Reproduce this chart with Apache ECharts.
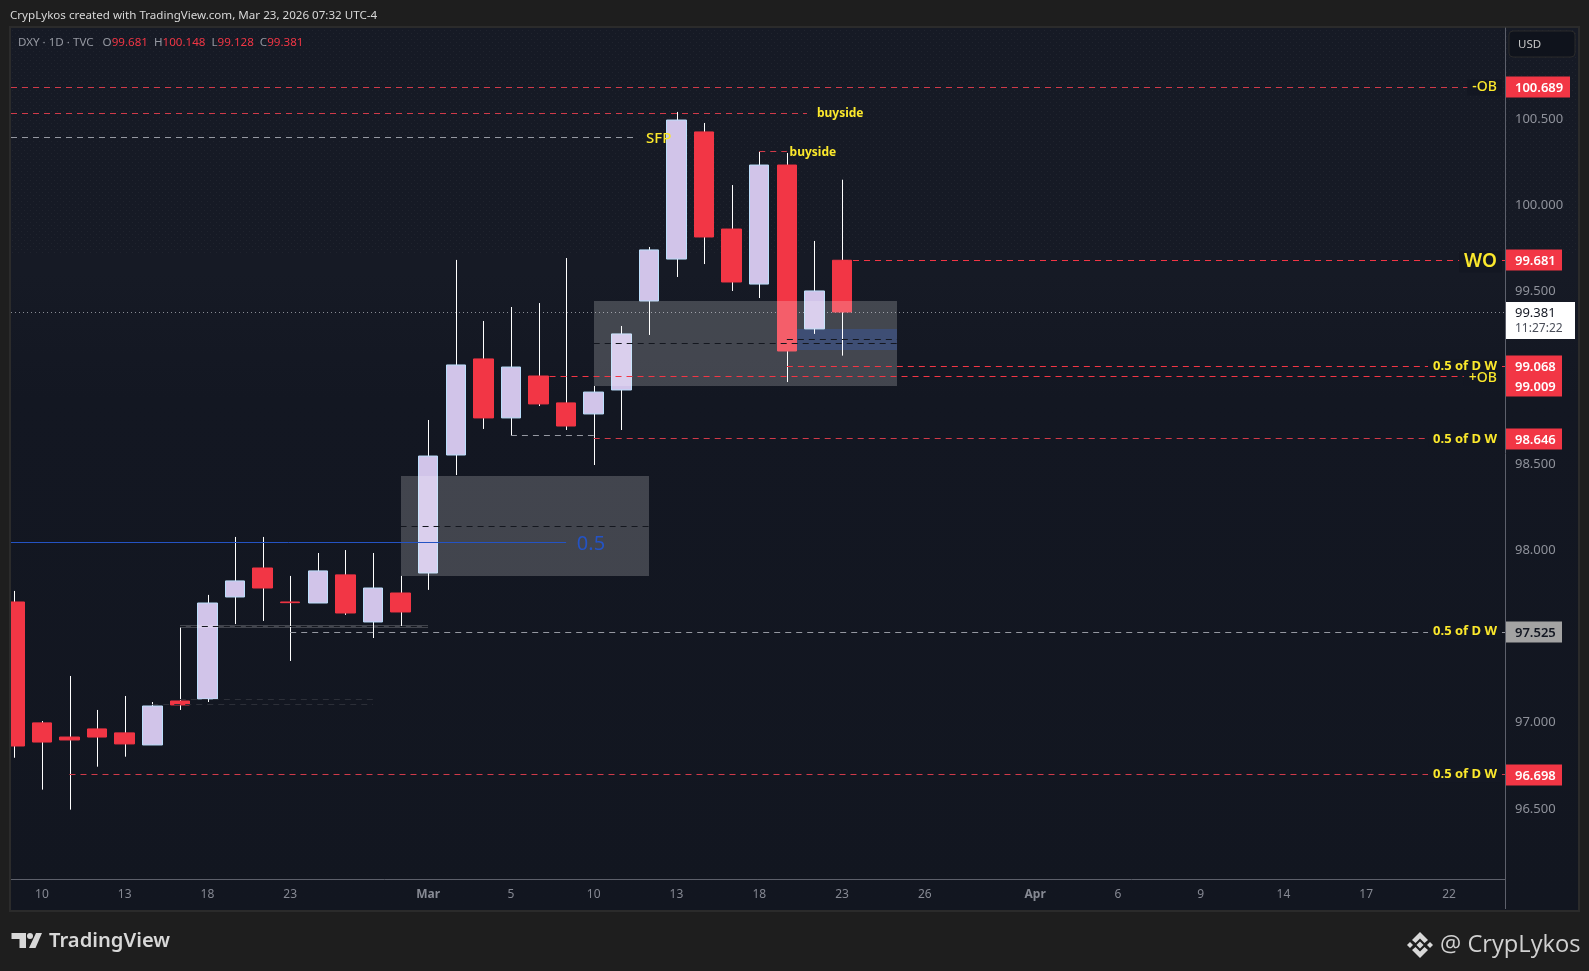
<!DOCTYPE html>
<html><head><meta charset="utf-8">
<style>html,body{margin:0;padding:0;background:#1e1e1e;overflow:hidden}#c{width:1589px;height:971px}</style>
<script src="https://cdn.jsdelivr.net/npm/echarts@6/dist/echarts.min.js"></script>
</head><body><div id="c"></div>
<script>
// --- data ---
const dates = ['Feb 9','Feb 10','Feb 11','Feb 12','Feb 13','Feb 16','Feb 17','Feb 18','Feb 19','Feb 20','Feb 23','Feb 24','Feb 25','Feb 26','Feb 27','Mar 2','Mar 3','Mar 4','Mar 5','Mar 6','Mar 9','Mar 10','Mar 11','Mar 12','Mar 13','Mar 16','Mar 17','Mar 18','Mar 19','Mar 20','Mar 23'];
const opens  = [97.700,96.999,96.917,96.964,96.941,96.871,97.126,97.138,97.729,97.897,97.700,97.694,97.857,97.584,97.752,97.868,98.552,99.109,98.767,99.010,98.854,98.790,98.929,99.445,99.688,100.425,99.862,99.543,100.233,99.283,99.681];
const closes = [96.865,96.888,96.900,96.917,96.877,97.097,97.103,97.694,97.822,97.781,97.696,97.880,97.636,97.781,97.642,98.546,99.074,98.767,99.062,98.848,98.720,98.917,99.254,99.741,100.494,99.816,99.555,100.233,99.155,99.503,99.381];
const highs  = [97.764,97.010,97.271,97.074,97.155,97.120,97.551,97.741,98.077,98.077,97.851,97.984,98.001,97.984,97.851,98.755,99.683,99.329,99.410,99.433,99.694,98.952,99.300,99.758,100.541,100.477,100.117,100.309,100.303,99.793,100.148];
const lows   = [96.797,96.612,96.496,96.745,96.803,96.871,97.074,97.120,97.572,97.590,97.358,97.696,97.625,97.491,97.561,97.770,98.436,98.703,98.668,98.836,98.697,98.494,98.697,99.248,99.584,99.659,99.503,99.462,98.975,99.254,99.128];
const xTickIndex = [1,4,7,10,15,18,21,24,27,30,33,37,40,43,46,49,52];
const xTickLabels = ['10','13','18','23','Mar','5','10','13','18','23','26','Apr','6','9','14','17','22'];
const yTicks = [96.5,97,98,98.5,99.5,100,100.5];
const X_MIN = -0.12, X_MAX = 54.03;
// levels: [fromBar, toBar, price]
const brightRedLevels = [[30,X_MAX,99.681],[28,X_MAX,99.068],[19,X_MAX,99.009]];
const dimRedLevels = [[X_MIN,X_MAX,100.684],[X_MIN,28.73,100.533],[27,28,100.31],[21,X_MAX,98.646],[2,X_MAX,96.698]];
const greyLevels = [[X_MIN,22.6,100.394],[18,21,98.668],[10,X_MAX,97.525]];
const midLines = [[14,23,98.140],[21,32,99.199],[28,32,99.222],[6,15,97.558]];
const faintLines = [[6,13,97.132],[5,13,97.103]];
const blueLine = [[X_MIN,20,98.046]];
const lastLine = [[X_MIN,X_MAX,99.381]];
// zones: [fromBar, toBar, top, bottom]
const overlayZones = [[14,23,98.430,97.851],[21,32,99.445,98.952],[6,15,97.567,97.549]];
const underlayZones = [[28,32,99.283,99.161]];
// annotations: [bar, price, text]
const dwNotes = [[53.92,99.064,'0.5 of D W'],[53.92,98.644,'0.5 of D W'],[53.92,97.528,'0.5 of D W'],[53.92,96.699,'0.5 of D W']];
const obNotes = [[53.92,100.683,'-OB'],[53.92,98.998,'+OB']];
const buysideNotes = [[29.09,100.529,'buyside'],[28.1,100.306,'buyside']];
const sfpNote = [[22.9,100.388,'SFP']];
const woNote = [[53.92,99.672,'WO']];
const halfNote = [[20.39,98.035,'0.5']];
// price tags: price, and how far a tag is pushed when it collides
const redTags = [100.689,99.681,99.068,99.009,98.646,96.698];
const redTagStack = [1,0,0,10,0,0];
const greyTags = [97.525];
const lastTag = [99.381];
const lastCountdown = '11:27:22';
const headerText = 'CrypLykos created with TradingView.com, Mar 23, 2026 07:32 UTC-4';

const FONT = '"Noto Sans"';
const BG = '#131722';
const YELLOW = '#fbe82c';
const chart = echarts.init(document.getElementById('c'), null, {renderer:'canvas'});

function levelSeries(name, data, color, dash, z, width){
  return {name, type:'custom', coordinateSystem:'cartesian2d', z, silent:true, animation:false, clip:true,
    encode:{x:[0,1],y:2}, data,
    renderItem(p, api){
      const a = api.coord([api.value(0),api.value(2)]), b = api.coord([api.value(1),api.value(2)]);
      const y = Math.floor(a[1])+0.5;
      return {type:'line', shape:{x1:a[0],y1:y,x2:b[0],y2:y}, style:{stroke:color,lineWidth:width||1,lineDash:dash||null}};
    }};
}
function zoneSeries(name, data, fill, z){
  return {name, type:'custom', coordinateSystem:'cartesian2d', z, silent:true, animation:false, clip:true,
    encode:{x:[0,1],y:[2,3]}, data,
    renderItem(p, api){
      const a = api.coord([api.value(0),api.value(2)]), b = api.coord([api.value(1),api.value(3)]);
      return {type:'rect', shape:{x:Math.round(a[0]),y:Math.round(a[1]),width:Math.round(b[0])-Math.round(a[0]),height:Math.round(b[1])-Math.round(a[1])}, style:{fill}};
    }};
}
function noteSeries(name, data, position, size, weight, color, bg, z){
  return {name, type:'scatter', z:z||8, symbolSize:0, silent:true, animation:false, clip:false, data,
    itemStyle:{opacity:1},
    label:{show:true, position, distance:0, formatter:p=>p.data[2], fontFamily:FONT, fontSize:size, fontWeight:weight, color,
      backgroundColor:bg||'transparent', padding:bg?[0,5]:0, lineHeight:size+2}};
}
function tagSeries(name, prices, stack, fill, color){
  return {name, type:'custom', coordinateSystem:'cartesian2d', z:10, silent:true, animation:false, clip:false,
    encode:{x:0,y:1}, data:prices.map((v,i)=>[X_MAX,v,stack?stack[i]:0]),
    renderItem(p, api){
      const c = api.coord([api.value(0),api.value(1)]);
      const txt = api.value(1).toFixed(3), cy = Math.round(c[1])+api.value(2);
      const w = txt.length>6?64:56;
      return {type:'group', children:[
        {type:'rect', shape:{x:1506,y:cy-10.5,width:w,height:21}, style:{fill}},
        {type:'text', style:{x:1515,y:cy+1,text:txt,fill:color,font:'600 13px '+FONT,verticalAlign:'middle',align:'left'}}
      ]};
    }};
}

// faint dot texture of the top of the reference's plot
const dotCanvas = document.createElement('canvas'); dotCanvas.width = 6; dotCanvas.height = 6;
(function(){const g=dotCanvas.getContext('2d'); g.fillStyle='rgba(255,255,255,0.045)'; g.fillRect(0,0,1,1); g.fillRect(3,3,1,1);})();

chart.setOption({
  animation:false,
  backgroundColor:'#1e1e1e',
  grid:{left:11, top:28, width:1494, height:851, containLabel:false},
  xAxis:{type:'value', min:X_MIN, max:X_MAX, splitLine:{show:false},
    axisLine:{show:true,onZero:false,lineStyle:{color:'#5d606b',width:1}}, axisTick:{show:false},
    axisLabel:{customValues:xTickIndex, hideOverlap:false, showMinLabel:true, showMaxLabel:true, margin:10, color:'#868993', fontFamily:FONT, fontSize:12,
      formatter:v=>{const s=xTickLabels[xTickIndex.indexOf(v)]; return (s==='Mar'||s==='Apr')?'{b|'+s+'}':s;},
      rich:{b:{fontWeight:'bold',color:'#868993',fontFamily:FONT,fontSize:12}}}},
  yAxis:{type:'value', position:'right', min:96.094, max:101.0275, scale:true, splitLine:{show:false},
    axisLine:{show:true,onZero:false,lineStyle:{color:'#5d606b',width:1}}, axisTick:{show:false},
    axisLabel:{customValues:yTicks, margin:10, color:'#8f929b', fontFamily:FONT, fontSize:13, padding:[2,0,0,0], formatter:v=>v.toFixed(3)}},
  graphic:{elements:[
    {type:'rect', z:-5, silent:true, shape:{x:10,y:27,width:1569,height:884}, style:{fill:new echarts.graphic.LinearGradient(0,0,0,1,[{offset:0,color:'#161a25'},{offset:0.28,color:'#161a25'},{offset:0.42,color:'#131722'},{offset:1,color:'#121620'}]),stroke:'#2b2b2b',lineWidth:2}},
    {type:'rect', z:-4, silent:true, shape:{x:11,y:28,width:1567,height:225}, style:{fill:{image:dotCanvas,repeat:'repeat'}}},
    {type:'rect', z:15, silent:true, shape:{x:0,y:27,width:9,height:884}, style:{fill:'#1e1e1e'}},
    {type:'rect', z:15, silent:true, shape:{x:9,y:26,width:2,height:886}, style:{fill:'#2b2b2b'}},
    {type:'line', z:3, silent:true, shape:{x1:1505.5,y1:879,x2:1505.5,y2:909}, style:{stroke:'#5d606b',lineWidth:1}},
    {type:'text', z:20, silent:true, style:{x:10,y:16,text:headerText,fill:'#d8d8d8',font:'11.6px '+FONT,verticalAlign:'middle'}},
    {type:'text', z:20, silent:true, style:{x:18,y:43,verticalAlign:'middle',text:'{g|DXY · 1D · TVC   O}{r|99.681}{g|  H}{r|100.148}{g|  L}{r|99.128}{g|  C}{r|99.381}',
      rich:{g:{fill:'#9598a1',font:'11.6px '+FONT},r:{fill:'#f23645',font:'11.6px '+FONT}}}},
    {type:'rect', z:20, silent:true, shape:{x:1509,y:31,width:66,height:26,r:4}, style:{fill:'#0f131c',stroke:'#2a2a2a'}},
    {type:'text', z:21, silent:true, style:{x:1518,y:45,text:'USD',fill:'#c8c8c8',font:'11.5px '+FONT,verticalAlign:'middle'}},
    // TradingView mark
    {type:'polygon', z:20, silent:true, shape:{points:[[11.5,933],[26,933],[26,948],[19.5,948],[19.5,939],[11.5,939]]}, style:{fill:'#d8d8d8'}},
    {type:'circle', z:20, silent:true, shape:{cx:30,cy:936,r:3}, style:{fill:'#d8d8d8'}},
    {type:'polygon', z:20, silent:true, shape:{points:[[36,933],[42,933],[35.5,948],[29,948]]}, style:{fill:'#d8d8d8'}},
    {type:'text', z:20, silent:true, style:{x:49,y:941,text:'TradingView',fill:'#d8d8d8',font:'600 20.2px '+FONT,verticalAlign:'middle'}},
    // diamond mark
    {type:'polygon', z:20, silent:true, shape:{points:[[1420,932],[1428,940],[1424.5,943],[1420,938.5],[1415.5,943],[1412,940]]}, style:{fill:'#d8d8d8'}},
    {type:'polygon', z:20, silent:true, shape:{points:[[1420,958],[1428,950],[1424.5,947],[1420,951.5],[1415.5,947],[1412,950]]}, style:{fill:'#d8d8d8'}},
    {type:'polygon', z:20, silent:true, shape:{points:[[1420,941.5],[1423.5,945],[1420,948.5],[1416.5,945]]}, style:{fill:'#d8d8d8'}},
    {type:'polygon', z:20, silent:true, shape:{points:[[1410,942],[1413,945],[1410,948],[1407,945]]}, style:{fill:'#d8d8d8'}},
    {type:'polygon', z:20, silent:true, shape:{points:[[1430,942],[1433,945],[1430,948],[1427,945]]}, style:{fill:'#d8d8d8'}},
    {type:'text', z:20, silent:true, style:{x:1440,y:945,text:'@ CrypLykos',fill:'#d1d1d1',font:'23.7px "Open Sans"',verticalAlign:'middle'}}
  ]},
  series:[
    levelSeries('Last price line', lastLine, '#8a8d96', [1,3], 1),
    zoneSeries('Blue zone', underlayZones, '#0e2252', 1),
    {name:'Wicks', type:'candlestick', z:2, silent:true, animation:false, barWidth:1,
      encode:{x:0,y:[1,2,3,4]},
      itemStyle:{color:'#ffffff',color0:'#ffffff',borderColor:'#ffffff',borderColor0:'#ffffff',borderColorDoji:'#ffffff',borderWidth:1},
      data:dates.map((d,i)=>[i+0.03,opens[i],closes[i],lows[i],highs[i]])},
    {name:'DXY', type:'candlestick', z:3, silent:true, animation:false, barWidth:20,
      encode:{x:0,y:[1,2,3,4]},
      itemStyle:{color:'#d1c4e9',color0:'#f23645',borderColor:'#bbdefb',borderColor0:'#f23645',borderColorDoji:'#f23645',borderWidth:1},
      data:dates.map((d,i)=>[i,opens[i],closes[i],Math.min(opens[i],closes[i]),Math.max(opens[i],closes[i])])},
    zoneSeries('Order block zones', overlayZones, 'rgba(255,255,255,0.2)', 4),
    levelSeries('Faint lines', faintLines, '#2c2f38', [6,5], 5),
    levelSeries('Zone mid lines', midLines, '#14171f', [6,5], 5),
    levelSeries('Dim red levels', dimRedLevels, '#d03a49', [6,5], 5),
    levelSeries('Red levels', brightRedLevels, '#f23645', [6,5], 5),
    levelSeries('Grey levels', greyLevels, '#9598a1', [6,5], 5),
    levelSeries('Blue line', blueLine, '#2453c4', null, 5),
    noteSeries('D W notes', dwNotes, 'left', 13, 700, YELLOW, BG),
    noteSeries('OB notes', obNotes, 'left', 14, 500, YELLOW, BG),
    noteSeries('Buyside notes', buysideNotes, 'right', 12, 700, YELLOW),
    noteSeries('SFP note', sfpNote, 'right', 15, 500, YELLOW),
    noteSeries('WO note', woNote, 'left', 19, 600, YELLOW, BG),
    noteSeries('Half note', halfNote, 'right', 20, 400, '#2453c4'),
    tagSeries('Red tags', redTags, redTagStack, '#f23645', '#ffffff'),
    tagSeries('Grey tags', greyTags, null, '#a3a3a3', '#131722'),
    {name:'Last tag', type:'custom', coordinateSystem:'cartesian2d', z:11, silent:true, animation:false, clip:false,
      encode:{x:0,y:1}, data:lastTag.map(v=>[X_MAX,v]),
      renderItem(p, api){
        const c = api.coord([api.value(0),api.value(1)]), cy = Math.round(c[1]);
        return {type:'group', children:[
          {type:'rect', shape:{x:1506,y:cy-10,width:69,height:37}, style:{fill:'#ffffff'}},
          {type:'text', style:{x:1515,y:cy+1,text:api.value(1).toFixed(3),fill:'#131722',font:'13px '+FONT,verticalAlign:'middle'}},
          {type:'text', style:{x:1515,y:cy+17,text:lastCountdown,fill:'#4a4e59',font:'12px '+FONT,verticalAlign:'middle'}}
        ]};
      }}
  ]
});
</script></body></html>
